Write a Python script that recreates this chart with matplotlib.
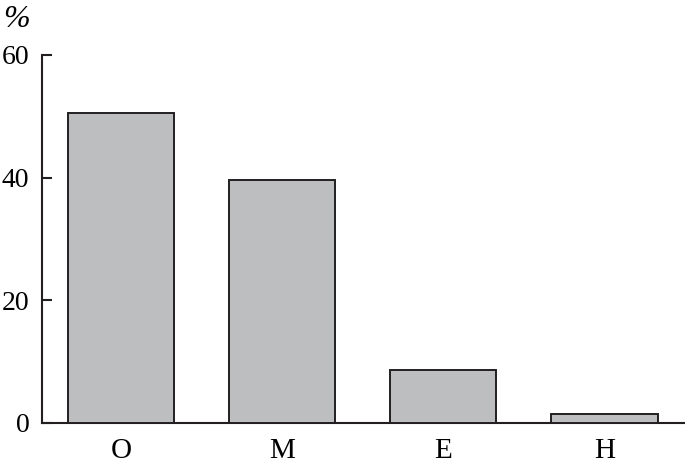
import numpy as np
import matplotlib.pyplot as plt

plt.rcParams['font.family'] = ['Liberation Serif', 'DejaVu Serif']

groups = ["O", "M", "E", "H"]
shares = [50.6, 39.6, 8.6, 1.4]
yticks = [0, 20, 40, 60]

fig = plt.figure(figsize=(6.85, 4.66), dpi=100)
ax = fig.add_axes([0.0613, 0.0923, 0.9387, 0.7897])

x = np.arange(len(groups))
ax.bar(x, shares, width=0.66, color="#bdbec0", edgecolor="#231f20", linewidth=1.4, zorder=3)

ax.set_xlim(-0.49, 3.5)
ax.set_ylim(0, 60)
ax.set_xticks(x)
ax.set_xticklabels(groups)
ax.set_yticks(yticks)

for s in ["top", "right"]:
    ax.spines[s].set_visible(False)
for s in ["left", "bottom"]:
    ax.spines[s].set_linewidth(1.5)
    ax.spines[s].set_color("#231f20")

ax.tick_params(axis="y", direction="in", length=7, width=1.5, color="#231f20", labelsize=20, pad=9)
ax.tick_params(axis="x", length=0, labelsize=21, pad=11)

fig.text(0.004, 0.99, "%", fontsize=23, style="italic", ha="left", va="top")

fig.savefig("out.png", dpi=100)
